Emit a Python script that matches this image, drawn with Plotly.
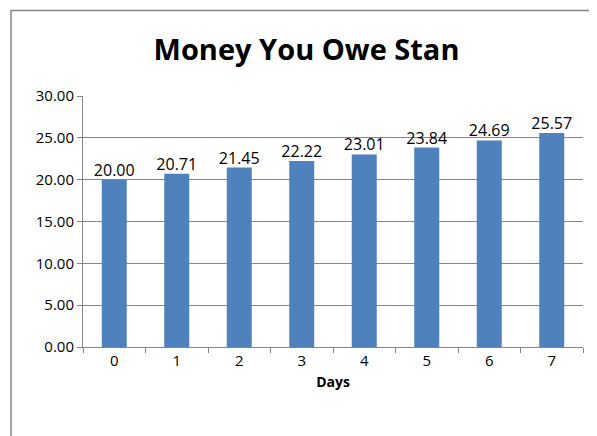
import plotly.graph_objects as go

days = ["0", "1", "2", "3", "4", "5", "6", "7"]
owed = [20.00, 20.71, 21.45, 22.22, 23.01, 23.84, 24.69, 25.57]

fig = go.Figure()
fig.add_trace(go.Bar(
    x=days, y=owed,
    marker=dict(color="#4F81BD", line=dict(width=0)),
    width=0.4,
))
# value labels above bars
fig.add_trace(go.Scatter(
    x=days, y=owed, mode="text",
    text=[f"{v:.2f}" for v in owed],
    textposition="top center",
    textfont=dict(size=16, color="black"),
    cliponaxis=False, hoverinfo="skip",
))

fig.update_layout(
    title=dict(text="<b>Money You Owe Stan</b>", x=0.5, xanchor="center",
               y=0.904, yanchor="middle",
               font=dict(size=29, color="black", family="Open Sans")),
    font=dict(family="Open Sans", size=15, color="black"),
    width=597, height=436,
    margin=dict(l=75, r=22, t=88, b=97, autoexpand=False),
    plot_bgcolor="white", paper_bgcolor="white",
    showlegend=False,
    xaxis=dict(title=dict(text="<b>Days</b>", font=dict(size=14), standoff=8),
               showline=True, linecolor="#868686", ticks="outside", tickcolor="#868686",
               ticklen=5, tickson="boundaries"),
    yaxis=dict(range=[0, 30], dtick=5, tickformat=".2f", showgrid=True,
               gridcolor="#868686", showline=True, linecolor="#868686",
               ticks="outside", tickcolor="#868686", ticklen=5, zeroline=False),
    shapes=[dict(type="rect", xref="paper", yref="paper", x0=-0.144, x1=1.038,
                 y0=-0.375, y1=1.341, line=dict(color="#868686", width=1.5))],
)

fig.write_html("out.html")
